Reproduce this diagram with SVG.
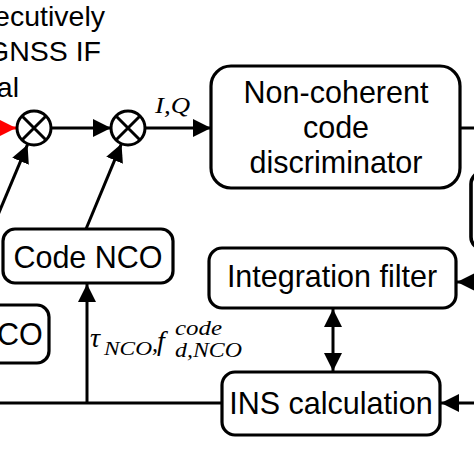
<svg xmlns="http://www.w3.org/2000/svg" width="474" height="474" viewBox="0 0 474 474">
<style>
.box{fill:#fff;stroke:#000;stroke-width:3.2}
.lbl{font-family:"Liberation Sans",Arial,sans-serif;font-size:30.5px;fill:#000}
.top{font-family:"Liberation Sans",Arial,sans-serif;font-size:28.5px;fill:#000}
.ln{stroke:#000;stroke-width:3;fill:none}
.math{font-family:"Liberation Serif","Times New Roman",serif;font-style:italic;fill:#000}
</style>
<defs>
<marker id="ah" markerUnits="userSpaceOnUse" markerWidth="18" markerHeight="18" refX="18" refY="9" orient="auto-start-reverse" viewBox="0 0 18 18"><path d="M0,0 L18,9 L0,18 z" fill="#000"/></marker>
<marker id="ahr" markerUnits="userSpaceOnUse" markerWidth="18" markerHeight="18" refX="18" refY="9" orient="auto" viewBox="0 0 18 18"><path d="M0,0 L18,9 L0,18 z" fill="#f00"/></marker>
</defs>
<rect width="474" height="474" fill="#fff"/>

<g id="input-text" class="top" text-anchor="end">
<text x="105" y="26">ecutively</text>
<text x="101" y="61">GNSS IF</text>
<text x="19" y="97">al</text>
</g>

<g id="connectors">
<line x1="-20" y1="128" x2="16" y2="128" stroke="#f00" stroke-width="3" marker-end="url(#ahr)"/>
<line class="ln" x1="51" y1="128" x2="111" y2="128" marker-end="url(#ah)"/>
<line class="ln" x1="145" y1="128" x2="211" y2="128" marker-end="url(#ah)"/>
<line class="ln" x1="460" y1="128" x2="476" y2="128"/>
<line class="ln" x1="476" y1="282" x2="457" y2="282" marker-end="url(#ah)"/>
<line class="ln" x1="476" y1="403" x2="441" y2="403" marker-end="url(#ah)"/>
<line class="ln" x1="222" y1="403" x2="-5" y2="403"/>
<line class="ln" x1="87" y1="403" x2="87" y2="284" marker-end="url(#ah)"/>
<line class="ln" x1="333" y1="309" x2="333" y2="371" marker-start="url(#ah)" marker-end="url(#ah)"/>
<line class="ln" x1="-10" y1="234" x2="27.5" y2="144.7" marker-end="url(#ah)"/>
<line class="ln" x1="86" y1="229" x2="121.5" y2="143.7" marker-end="url(#ah)"/>
</g>

<g id="mixer1">
<circle cx="34" cy="128" r="17" fill="#fff" stroke="#000" stroke-width="3"/>
<path class="ln" d="M22,116 L46,140 M46,116 L22,140"/>
</g>
<g id="mixer2">
<circle cx="128" cy="128" r="17" fill="#fff" stroke="#000" stroke-width="3"/>
<path class="ln" d="M116,116 L140,140 M140,116 L116,140"/>
</g>

<g id="iq-label">
<text class="math" x="155" y="113" font-size="24" textLength="35" lengthAdjust="spacingAndGlyphs">I,Q</text>
</g>

<g id="discriminator">
<rect class="box" x="211" y="66" width="249" height="122" rx="20"/>
<text class="lbl" text-anchor="middle" x="336" y="103">Non-coherent</text>
<text class="lbl" text-anchor="middle" x="336" y="138">code</text>
<text class="lbl" text-anchor="middle" x="336" y="173">discriminator</text>
</g>

<g id="right-box">
<rect x="471" y="172" width="40" height="77" rx="12" fill="#fff" stroke="#000" stroke-width="3.6"/>
</g>

<g id="integration-filter">
<rect class="box" x="209" y="248" width="247" height="60" rx="13"/>
<text class="lbl" text-anchor="middle" x="332" y="287">Integration filter</text>
</g>

<g id="ins-calculation">
<rect class="box" x="222" y="372" width="218" height="63" rx="13"/>
<text class="lbl" text-anchor="middle" x="331" y="414">INS calculation</text>
</g>

<g id="code-nco">
<rect class="box" x="3" y="229" width="170" height="54" rx="12"/>
<text class="lbl" text-anchor="middle" x="88" y="268">Code NCO</text>
</g>

<g id="carrier-nco">
<rect class="box" x="-60" y="305" width="109" height="58" rx="12"/>
<text class="lbl" x="-3" y="345">CO</text>
</g>

<g id="nco-label" class="math">
<text x="90" y="347" font-size="28">τ</text>
<text x="104" y="355" font-size="19" textLength="48" lengthAdjust="spacingAndGlyphs">NCO</text>
<text x="152" y="351" font-size="24">,</text>
<text x="157" y="350" font-size="28">f</text>
<text x="175" y="335" font-size="21" textLength="47" lengthAdjust="spacingAndGlyphs">code</text>
<text x="175" y="357" font-size="21" textLength="67" lengthAdjust="spacingAndGlyphs">d,NCO</text>
</g>
</svg>
